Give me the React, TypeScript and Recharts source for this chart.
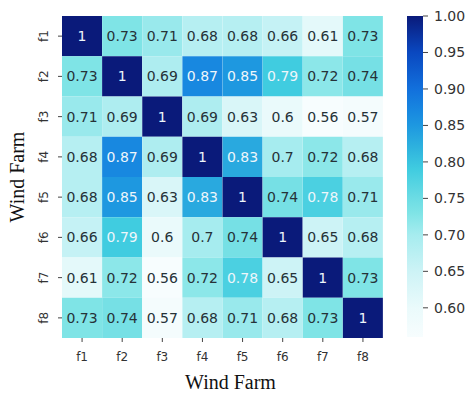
import React from 'react';
import { BarChart, Bar, XAxis, YAxis, Cell, LabelList, Label } from 'recharts';

const farms = ['f1', 'f2', 'f3', 'f4', 'f5', 'f6', 'f7', 'f8'];

const rowF1 = [1, 0.73, 0.71, 0.68, 0.68, 0.66, 0.61, 0.73];
const rowF2 = [0.73, 1, 0.69, 0.87, 0.85, 0.79, 0.72, 0.74];
const rowF3 = [0.71, 0.69, 1, 0.69, 0.63, 0.6, 0.56, 0.57];
const rowF4 = [0.68, 0.87, 0.69, 1, 0.83, 0.7, 0.72, 0.68];
const rowF5 = [0.68, 0.85, 0.63, 0.83, 1, 0.74, 0.78, 0.71];
const rowF6 = [0.66, 0.79, 0.6, 0.7, 0.74, 1, 0.65, 0.68];
const rowF7 = [0.61, 0.72, 0.56, 0.72, 0.78, 0.65, 1, 0.73];
const rowF8 = [0.73, 0.74, 0.57, 0.68, 0.71, 0.68, 0.73, 1];

const rows = [rowF1, rowF2, rowF3, rowF4, rowF5, rowF6, rowF7, rowF8];

const colorbarTicks = [0.6, 0.65, 0.7, 0.75, 0.8, 0.85, 0.9, 0.95, 1.0];
const vMin = 0.56;
const vMax = 1.0;

// colormap anchor stops: value -> colour
const cmapValues = [0.56, 0.6, 0.65, 0.7, 0.73, 0.75, 0.79, 0.82, 0.85, 0.87, 0.9, 0.95, 1.0];
const cmapColors = ['#f7fdfe', '#eafafb', '#cdf3f6', '#a6ecef', '#7fe4e6', '#6cdce4', '#40cce0', '#2eb2de', '#1e98e0', '#1888e0', '#1270dc', '#0a48c0', '#0a1a7a'];

function hexToRgb(h: string) {
  return [parseInt(h.slice(1, 3), 16), parseInt(h.slice(3, 5), 16), parseInt(h.slice(5, 7), 16)];
}
function colorFor(v: number) {
  if (v <= cmapValues[0]) return cmapColors[0];
  for (let i = 1; i < cmapValues.length; i++) {
    if (v <= cmapValues[i]) {
      const t = (v - cmapValues[i - 1]) / (cmapValues[i] - cmapValues[i - 1]);
      const a = hexToRgb(cmapColors[i - 1]);
      const b = hexToRgb(cmapColors[i]);
      const c = a.map((x, k) => Math.round(x + (b[k] - x) * t));
      return `rgb(${c[0]},${c[1]},${c[2]})`;
    }
  }
  return cmapColors[cmapColors.length - 1];
}

const data = farms.map((name, j) => {
  const o: any = { name };
  rows.forEach((r, i) => {
    o[`r${i}`] = 1;
    o[`v${i}`] = r[j];
  });
  return o;
});

const colorbarData = [{ name: 'cb', range: [vMin, vMax] }];

const rowTicks = farms.map((_, i) => i + 0.5);

// gradient stops ordered from top (vMax) to bottom (vMin)
const gradStops = cmapValues
  .map((v, k) => ({ offset: (vMax - v) / (vMax - vMin), color: cmapColors[k] }))
  .reverse();

const YTick = (props: any) => {
  const { x, y, payload } = props;
  const idx = Math.round(payload.value - 0.5);
  return (
    <text
      x={x - 4}
      y={y}
      transform={`rotate(-90, ${x - 4}, ${y})`}
      textAnchor="middle"
      dominantBaseline="central"
      fontFamily="DejaVu Sans"
      fontSize={12}
      fill="#333"
    >
      {farms[idx]}
    </text>
  );
};

const CellLabel = (props: any) => {
  const { x, y, width, height, value } = props;
  const light = value > 0.76;
  return (
    <text
      x={x + width / 2}
      y={y + height / 2}
      textAnchor="middle"
      dominantBaseline="central"
      fontFamily="DejaVu Sans"
      fontSize={14}
      fill={light ? '#eef6fb' : '#263238'}
    >
      {String(value)}
    </text>
  );
};

export default function App() {
  return (
    <div style={{ position: 'absolute', left: 0, top: 0, width: 474, height: 399, background: '#fff' }}>
      <div style={{ position: 'absolute', left: 0, top: 0 }}>
        <BarChart
          width={474}
          height={399}
          data={data}
          margin={{ top: 16, right: 91, bottom: 31, left: 22 }}
          barCategoryGap={0}
          barGap={0}
        >
          <XAxis
            dataKey="name"
            axisLine={false}
            tickLine={{ stroke: '#444' }}
            tickSize={4}
            tickMargin={10}
            height={30}
            tick={{ fontFamily: 'DejaVu Sans', fontSize: 12, fill: '#333' }}
          >
            <Label
              value="Wind Farm"
              position="bottom"
              offset={7}
              dx={8}
              style={{ fontFamily: 'Liberation Serif', fontSize: 20, fill: '#111' }}
            />
          </XAxis>
          <YAxis
            type="number"
            domain={[0, 8]}
            reversed
            ticks={rowTicks}
            axisLine={false}
            tickLine={{ stroke: '#444' }}
            tickSize={4}
            tickMargin={10}
            width={40}
            tick={<YTick />}
            allowDecimals
          >
            <Label
              value="Wind Farm"
              angle={-90}
              position="insideLeft"
              offset={-5}
              style={{ fontFamily: 'Liberation Serif', fontSize: 20, fill: '#111', textAnchor: 'middle' }}
            />
          </YAxis>
          {rows.map((r, i) => (
            <Bar key={i} dataKey={`r${i}`} stackId="a" isAnimationActive={false}>
              {r.map((v, j) => (
                <Cell key={j} fill={colorFor(v)} />
              ))}
              <LabelList dataKey={`v${i}`} content={<CellLabel />} />
            </Bar>
          ))}
        </BarChart>
      </div>
      <div style={{ position: 'absolute', left: 0, top: 0 }}>
        <BarChart
          width={474}
          height={399}
          data={colorbarData}
          margin={{ top: 16, right: 1, bottom: 62, left: 407 }}
          barCategoryGap={0}
        >
          <defs>
            <linearGradient id="cbGrad" x1="0" y1="0" x2="0" y2="1">
              {gradStops.map((s, k) => (
                <stop key={k} offset={s.offset} stopColor={s.color} />
              ))}
            </linearGradient>
          </defs>
          <XAxis dataKey="name" hide />
          <YAxis
            type="number"
            orientation="right"
            domain={[vMin, vMax]}
            ticks={colorbarTicks}
            tickFormatter={(v: number) => v.toFixed(2)}
            axisLine={false}
            tickLine={{ stroke: '#444' }}
            tickSize={5}
            tickMargin={6}
            width={50}
            tick={{ fontFamily: 'DejaVu Sans', fontSize: 14, fill: '#333' }}
          />
          <Bar dataKey="range" fill="url(#cbGrad)" isAnimationActive={false} />
        </BarChart>
      </div>
    </div>
  );
}
